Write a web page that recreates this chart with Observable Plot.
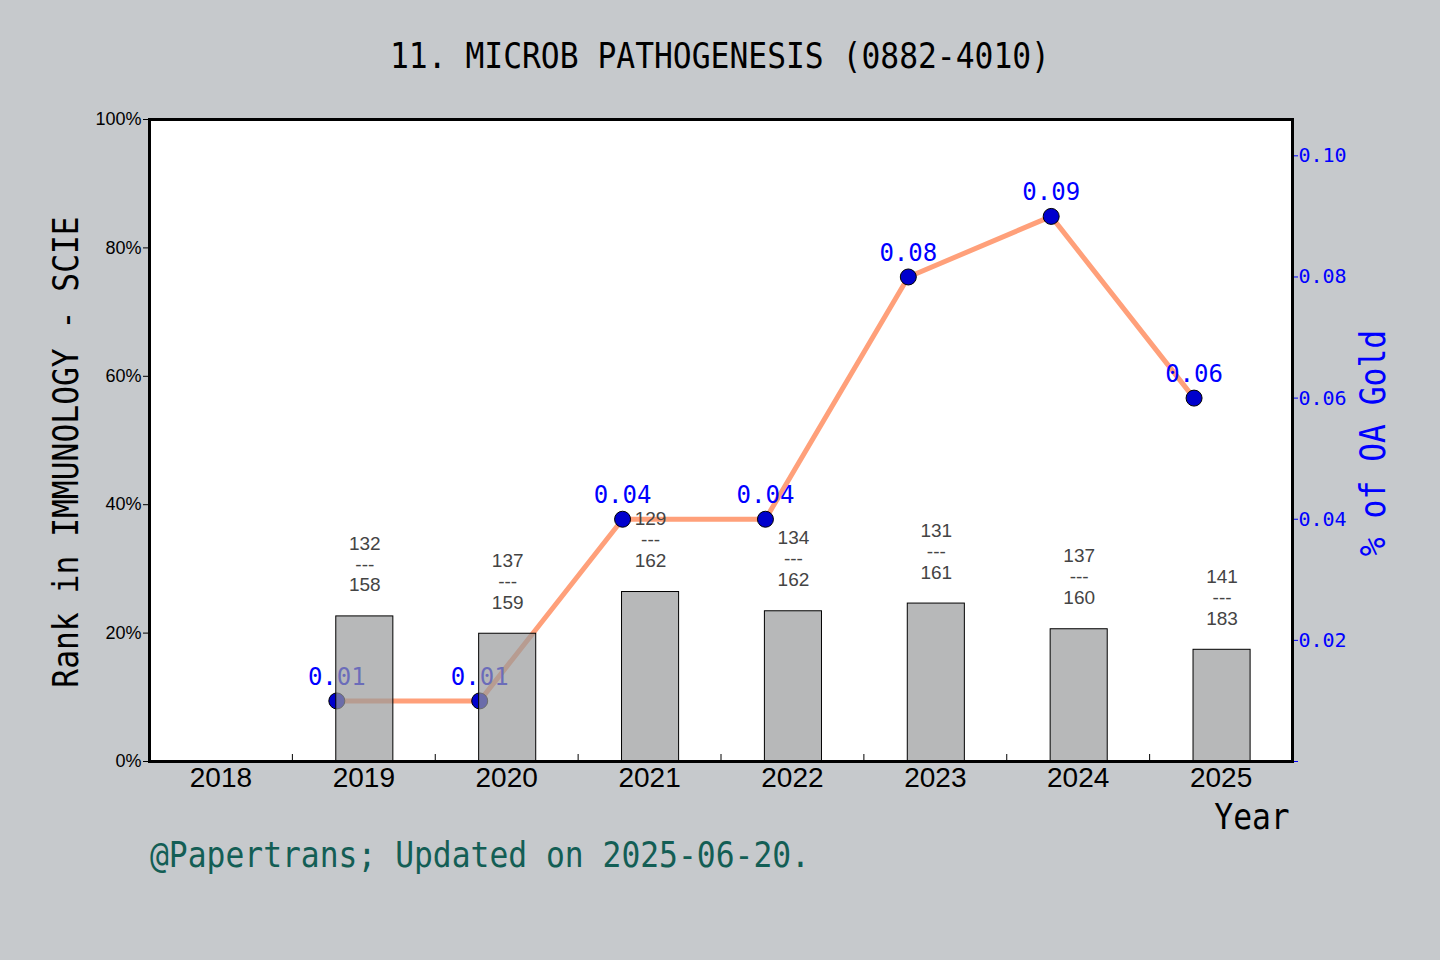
<!DOCTYPE html>
<html>
<head>
<meta charset="utf-8">
<script src="https://cdn.jsdelivr.net/npm/d3@7"></script>
<script src="https://cdn.jsdelivr.net/npm/@observablehq/plot@0.6"></script>
<style>
  html, body { margin: 0; padding: 0; background: #c6c9cc; }
  #wrap { position: relative; width: 1440px; height: 960px; background: #c6c9cc; overflow: hidden; }
  #chart { position: absolute; left: 0; top: 0; }
  .lbl { position: absolute; white-space: nowrap; font-family: "DejaVu Sans Mono", monospace; font-size: 36px; line-height: 1; }
</style>
</head>
<body>
<div id="wrap">
  <div id="chart"></div>
  <div class="lbl" id="title" style="left:720px; top:56px; transform: translate(-50%,-50%) scaleX(0.87); color:#000;">11. MICROB PATHOGENESIS (0882-4010)</div>
  <div class="lbl" id="ylab" style="left:66px; top:452px; transform: translate(-50%,-50%) rotate(-90deg) scaleX(0.87); color:#000;">Rank in IMMUNOLOGY - SCIE</div>
  <div class="lbl" id="y2lab" style="left:1373px; top:443px; transform: translate(-50%,-50%) rotate(-90deg) scaleX(0.87); color:#0000ff;">% of OA Gold</div>
  <div class="lbl" id="xlab" style="right:150px; top:817px; transform-origin: right center; transform: translateY(-50%) scaleX(0.87); color:#000;">Year</div>
  <div class="lbl" id="caption" style="left:150px; top:855px; transform-origin: left center; transform: translateY(-50%) scaleX(0.87); color:#135e55;">@Papertrans; Updated on 2025-06-20.</div>
</div>
<script>
// ---- data ----
const years = ["2018", "2019", "2020", "2021", "2022", "2023", "2024", "2025"];
const dataYears = ["2019", "2020", "2021", "2022", "2023", "2024", "2025"];
const rankPct = [0.226, 0.199, 0.264, 0.234, 0.246, 0.206, 0.174];
const rankNum = [132, 137, 129, 134, 131, 137, 141];
const rankTotal = [158, 159, 162, 162, 161, 160, 183];
const oaGold = [0.01, 0.01, 0.04, 0.04, 0.08, 0.09, 0.06];
const leftTicks = [0, 0.2, 0.4, 0.6, 0.8, 1.0];
const rightTicks = [0, 0.02, 0.04, 0.06, 0.08, 0.10];
const oaMax = 0.106;

// ---- build ----
const W = 1440, H = 960, mL = 149, mR = 148, mT = 119, mB = 199;
const step = (W - mL - mR) / years.length;
const ptShift = -27;

const bars = dataYears.map((y, i) => ({year: y, pct: rankPct[i], num: rankNum[i], total: rankTotal[i]}));
const oa = dataYears.map((y, i) => ({year: y, v: oaGold[i], yv: oaGold[i] / oaMax}));

const chart = Plot.plot({
  width: W, height: H,
  marginLeft: mL, marginRight: mR, marginTop: mT, marginBottom: mB,
  style: {background: "transparent", overflow: "visible"},
  x: {type: "band", domain: years, padding: 0, round: false, label: null},
  y: {domain: [0, 1], label: null},
  marks: [
    Plot.frame({fill: "white", stroke: "none"}),
    Plot.line(oa, {x: "year", y: "yv", stroke: "#ffa07a", strokeWidth: 5, dx: ptShift}),
    Plot.dot(oa, {x: "year", y: "yv", r: 8, fill: "#0000cd", stroke: "black", strokeWidth: 1, dx: ptShift}),
    Plot.text(oa, {x: "year", y: "yv", text: d => d.v.toFixed(2), dx: ptShift, dy: -24, fill: "#0000ff", fontSize: 24, fontFamily: "DejaVu Sans Mono"}),
    Plot.barY(bars, {x: "year", y: "pct", fill: "#999a9b", fillOpacity: 0.7, stroke: "black", strokeWidth: 1, insetLeft: 42.9, insetRight: 42.9, dx: 1}),
    Plot.text(bars, {x: "year", y: "pct", text: d => `${d.num}\n---\n${d.total}`, lineAnchor: "bottom", lineHeight: 1.1, dy: -25, dx: 1, fill: "#444", fontSize: 19, fontFamily: "Liberation Sans"}),
    Plot.ruleX(years.slice(0, -1), {x: d => d, y1: 0, y2: 7 / (H - mT - mB), dx: step / 2, stroke: "black", strokeWidth: 1}),
    Plot.axisX({tickSize: 0, tickPadding: 6, fontSize: 28, fontFamily: "Liberation Sans", label: null}),
    Plot.axisY(leftTicks, {anchor: "left", tickFormat: d3.format(".0%"), tickSize: 6, tickPadding: 2, fontSize: 18, fontFamily: "Liberation Sans", label: null}),
    Plot.axisY(rightTicks.map(v => v / oaMax), {anchor: "right", color: "blue", tickSize: 5, tickPadding: 1, fontSize: 20, fontFamily: "DejaVu Sans Mono", label: null,
      tickFormat: d => { const v = d * oaMax; return v < 0.001 ? "" : v.toFixed(2); }}),
    Plot.frame({stroke: "black", strokeWidth: 3})
  ]
});
document.getElementById("chart").appendChild(chart);
</script>
</body>
</html>
